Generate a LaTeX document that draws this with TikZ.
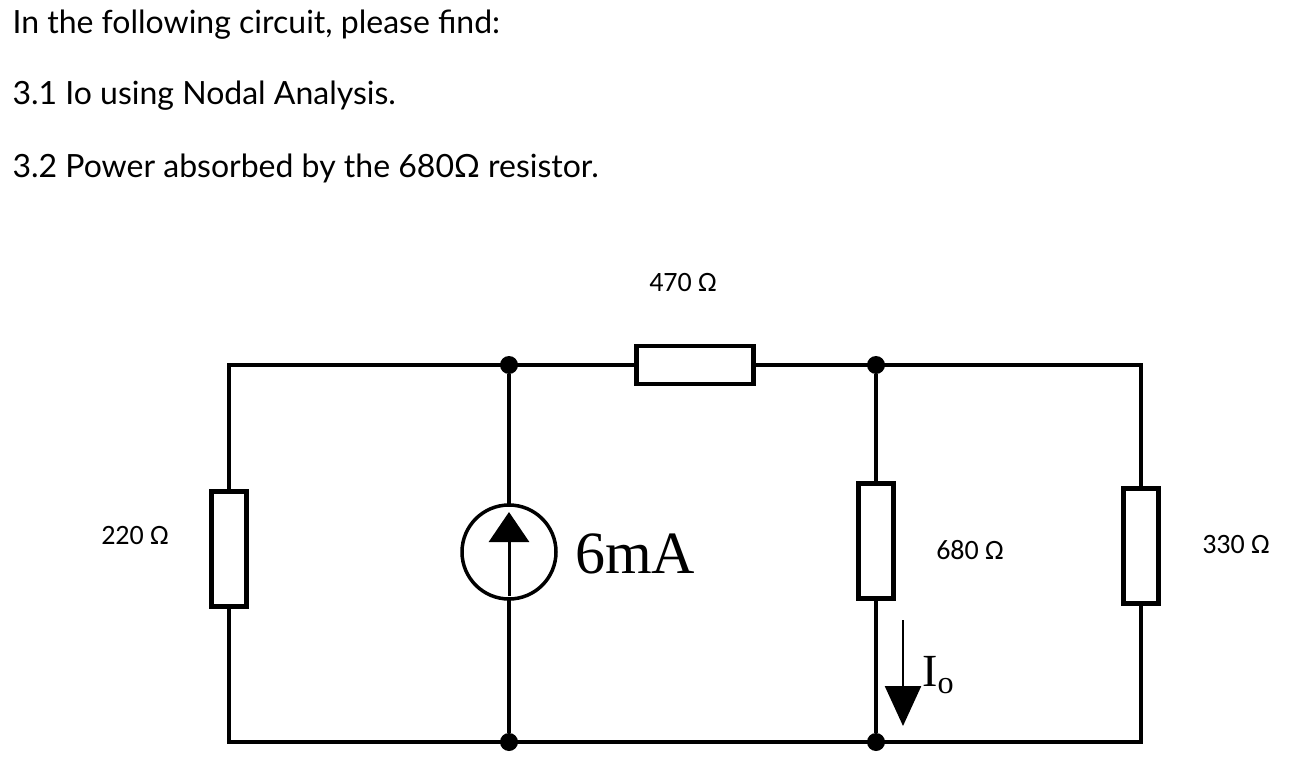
\documentclass[tikz,border=0pt]{standalone}
\usepackage{fontspec}
\setmainfont{Lato}
\newfontfamily\carl{Carlito}
\newfontfamily\tnr{Liberation Serif}
\usetikzlibrary{arrows.meta}
\begin{document}
\begin{tikzpicture}[x=1pt,y=-1pt,
  wire/.style={line width=4.5pt},
  res/.style={draw,line width=4.5pt,fill=white,inner sep=0pt},
  dot/.style={circle,fill=black,minimum size=18pt,inner sep=0pt},
  lab/.style={font=\carl\fontsize{28}{28}\selectfont},
  q/.style={anchor=west,font=\fontsize{32}{34}\selectfont}]
\useasboundingbox (0,0) rectangle (1296,778);
\node[q] (t1) at (9,25) {In the following circuit, please find:};
\node[q] (t2) at (9,96) {3.1 Io using Nodal Analysis.};
\node[q] (t3) at (9,168) {3.2 Power absorbed by the 680Ω resistor.};
\coordinate (tl) at (229,365); \coordinate (tr) at (1141,365);
\coordinate (bl) at (229,742); \coordinate (br) at (1141,742);
\node[dot] (n1) at (509,365) {}; \node[dot] (n2) at (876,365) {};
\node[dot] (n3) at (509,742) {}; \node[dot] (n4) at (876,742) {};
\draw[wire] (bl) -- (tl) -- (tr) -- (br) -- cycle;
\draw[wire] (n1) -- (n3); \draw[wire] (n2) -- (n4);
\node[res,minimum width=117pt,minimum height=38pt] (r470) at (695,365) {};
\node[res,minimum width=35pt,minimum height=115pt] (r220) at (229,549) {};
\node[res,minimum width=35pt,minimum height=115pt] (r680) at (876,541) {};
\node[res,minimum width=35pt,minimum height=115pt] (r330) at (1141,546) {};
\node[circle,draw,line width=3.5pt,fill=white,minimum size=94pt,inner sep=0pt] (cs) at (509,552) {};
\draw[line width=3pt,-{Triangle[length=30pt,width=40pt]}] (509,596) -- (509,512);
\node[lab] (l470) at (683,283) {470 Ω};
\node[lab] (l220) at (135,536) {220 Ω};
\node[lab] (l680) at (970,550) {680 Ω};
\node[lab] (l330) at (1236,545) {330 Ω};
\node[font=\tnr\fontsize{60}{60}\selectfont] (l6) at (635,554) {6mA};
\coordinate (a1) at (903,620); \coordinate (a2) at (903,726);
\draw[line width=2.5pt,-{Triangle[length=40pt,width=36pt]}] (a1) -- (a2);
\node[font=\tnr\fontsize{46}{46}\selectfont,anchor=west,inner sep=0pt] (io) at (922,675) {I\textsubscript{o}};
\end{tikzpicture}
\end{document}
